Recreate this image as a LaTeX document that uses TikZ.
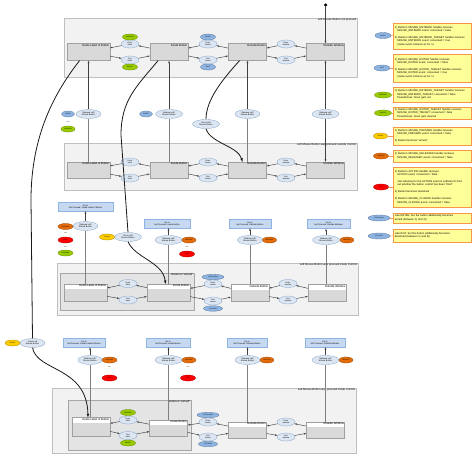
\documentclass[tikz,border=0pt]{standalone}
\usepackage{fontspec}
\setmainfont{Liberation Sans}
\usetikzlibrary{shapes.geometric}
\usetikzlibrary{calc}
\usetikzlibrary{arrows}

\definecolor{panelfill}{HTML}{F2F2F2}
\definecolor{panelline}{HTML}{BFBFBF}
\definecolor{armedfill}{HTML}{E4E4E4}
\definecolor{armedline}{HTML}{A6A6A6}
\definecolor{boxfill}{HTML}{D9D9D9}
\definecolor{boxline}{HTML}{A0A0A0}
\definecolor{evfill}{HTML}{DCE6F2}
\definecolor{evline}{HTML}{8EA9C8}
\definecolor{gotofill}{HTML}{C6D9F1}
\definecolor{gotoline}{HTML}{8EB4E3}
\definecolor{notefill}{HTML}{FFFF99}
\definecolor{noteline}{HTML}{F79646}
\definecolor{keyblue}{HTML}{8DB4E2}
\definecolor{keygreen}{HTML}{99CC00}
\definecolor{keyyellow}{HTML}{FFCC00}
\definecolor{keyorange}{HTML}{E46C0A}
\definecolor{keyred}{HTML}{FF0000}

\newcommand{\noteindent}{\hspace*{2.5mm}}

\begin{document}
\begin{tikzpicture}[x=1mm,y=-1mm,>=latex,
  panel/.style={draw=panelline,fill=panelfill,line width=0.5mm},
  armedpanel/.style={draw=armedline,fill=armedfill,line width=0.5mm},
  paneltitle/.style={anchor=north east,inner sep=0.8mm,font=\fontsize{8}{9}\selectfont},
  statebox/.style={draw=boxline,fill=boxfill,line width=0.35mm,minimum width=38mm,minimum height=17mm,inner sep=0pt,
    label={[anchor=north east,inner sep=0.8mm,font=\fontsize{8}{9}\selectfont]north east:#1}},
  armedbox/.style={statebox={#1},path picture={\fill[white] (path picture bounding box.north west) rectangle ([yshift=-5mm]path picture bounding box.north east);}},
  event/.style={ellipse,draw=evline,fill=evfill,line width=0.35mm,minimum width=18mm,minimum height=8mm,inner sep=0pt,align=center,font=\fontsize{5.5}{6}\selectfont},
  mouse/.style={event,minimum width=27mm,minimum height=9mm,font=\fontsize{6}{6.5}\selectfont},
  tag/.style={ellipse,draw=#1!70!black,fill=#1,line width=0.35mm,minimum width=15mm,minimum height=6mm,inner sep=0pt,font=\fontsize{4.5}{5}\selectfont},
  goto/.style={draw=gotoline,fill=gotofill,line width=0.35mm,minimum height=9mm,inner sep=0pt,align=center,font=\fontsize{6}{7}\selectfont},
  note/.style={draw=noteline,fill=notefill,line width=0.9mm,anchor=west,text width=75mm,inner xsep=1.5mm,inner ysep=0.8mm,align=left,font=\fontsize{7.5}{9.8}\selectfont},
  thentext/.style={inner sep=0pt,font=\fontsize{4}{4}\selectfont},
  flow/.style={->,draw=black!75,line width=0.45mm},
  link/.style={draw=black!50,line width=0.45mm},
  curve/.style={draw=black!90,line width=0.8mm},
  keyline/.style={draw=noteline,line width=0.6mm}]
  \useasboundingbox (0,0) rectangle (474,457);

  % not pressed
  \draw[panel] (64,18) rectangle (357,77);
  \node[paneltitle] (t1) at (357,18) {Left Mouse Button not pressed};
  \node[statebox={Inside Label of Button},minimum width=43mm] (l1) at (88.5,52) {};
  \node[statebox={Inside Button}] (b1) at (169,52) {};
  \node[statebox={Outside Button}] (o1) at (247.5,52) {};
  \node[statebox={Outside Window}] (w1) at (325.5,52) {};
  \node[event] (el1) at (130,44) {Enter\\label};
  \node[event] (xl1) at (130,60) {Exit\\label};
  \node[tag=keygreen] (gn1) at (130,37) {ENTERED};
  \node[tag=keygreen] (gx1) at (130,67) {EXITED};
  \node[event] (eb1) at (208,44) {Enter\\button};
  \node[event] (xb1) at (208,60) {Exit\\button};
  \node[tag=keyblue] (ke1) at (208,37) {ENTER};
  \node[tag=keyblue] (kx1) at (208,67) {EXIT};
  \node[event] (ew1) at (286,44) {Enter\\window};
  \node[event] (xw1) at (286,60) {Exit\\window};
  \draw[flow] (b1) -- (el1);
  \draw[flow] (el1) -- (l1);
  \draw[flow] (l1) -- (xl1);
  \draw[flow] (xl1) -- (b1);
  \draw[flow] (o1) -- (eb1);
  \draw[flow] (eb1) -- (b1);
  \draw[flow] (b1) -- (xb1);
  \draw[flow] (xb1) -- (o1);
  \draw[flow] (w1) -- (ew1);
  \draw[flow] (ew1) -- (o1);
  \draw[flow] (o1) -- (xw1);
  \draw[flow] (xw1) -- (w1);
  \node[circle,fill=black,inner sep=0pt,minimum size=3.5mm] (start) at (325.5,5) {};
  \draw[flow] (start) -- (w1);

  % pressed outside
  \draw[panel] (64,143) rectangle (357,190);
  \node[paneltitle] (t2) at (357,143) {Left Mouse Button was pressed outside Control};
  \node[statebox={Inside Label of Button},minimum width=43mm,minimum height=16mm] (l2) at (88.5,170) {};
  \node[statebox={Inside Button},minimum height=16mm] (b2) at (169,170) {};
  \node[statebox={Outside Button},minimum height=16mm] (o2) at (247.5,170) {};
  \node[statebox={Outside Window},minimum height=16mm] (w2) at (325.5,170) {};
  \node[event] (el2) at (130,162) {Enter\\label};
  \node[event] (xl2) at (130,178) {Exit\\label};
  \node[event] (eb2) at (208,162) {Enter\\button};
  \node[event] (xb2) at (208,178) {Exit\\button};
  \node[event] (ew2) at (286,162) {Enter\\window};
  \node[event] (xw2) at (286,178) {Exit\\window};
  \draw[flow] (b2) -- (el2);
  \draw[flow] (el2) -- (l2);
  \draw[flow] (l2) -- (xl2);
  \draw[flow] (xl2) -- (b2);
  \draw[flow] (o2) -- (eb2);
  \draw[flow] (eb2) -- (b2);
  \draw[flow] (b2) -- (xb2);
  \draw[flow] (xb2) -- (o2);
  \draw[flow] (w2) -- (ew2);
  \draw[flow] (ew2) -- (o2);
  \draw[flow] (o2) -- (xw2);
  \draw[flow] (xw2) -- (w2);

  % release back to not pressed
  \node[tag=keyblue,minimum width=13mm] (ke5) at (68,114) {ENTER};
  \node[thentext] (th1) at (68,121.5) {then};
  \node[tag=keygreen,minimum width=14mm] (gn5) at (68,129) {ENTERED};
  \node[mouse,minimum width=25mm] (rl1) at (88.5,114) {Release Left\\Mouse Button};
  \draw[link] (l2) -- (rl1);
  \draw[flow] (rl1) -- (l1);
  \node[tag=keyblue,minimum width=13mm] (ke6) at (146,114) {ENTER};
  \node[mouse] (rb1) at (169,114) {Release Left\\Mouse Button};
  \draw[link] (b2) -- (rb1);
  \draw[flow] (rb1) -- (b1);
  \node[mouse] (pr1) at (206,124) {Press Left\\Mouse Button};
  \node[mouse,minimum width=25mm] (ro1) at (247.5,114) {Release Left\\Mouse Button};
  \draw[link] (o2) -- (ro1);
  \draw[flow] (ro1) -- (o1);
  \node[mouse] (rw1) at (325.5,114) {Release Left\\Mouse Button};
  \draw[flow] (rw1) -- (w2);
  \draw[flow] (rw1) -- (w1);

  % pressed inside
  \draw[panel] (57,263) rectangle (358,315);
  \node[paneltitle] (t3) at (358,263) {Left Mouse Button was pressed inside Control};
  \draw[armedpanel] (60,273) rectangle (194,310);
  \node[paneltitle] (a3) at (194,273) {Button is ``armed''};
  \node[armedbox={Inside Label of Button},minimum width=43mm] (l3) at (85.5,292.5) {};
  \node[armedbox={Inside Button},minimum width=43mm] (b3) at (168.5,292.5) {};
  \node[armedbox={Outside Button}] (o3) at (250,293) {};
  \node[armedbox={Outside Window}] (w3) at (327,293) {};
  \node[event] (el3) at (128,283.5) {Enter\\label};
  \node[event] (xl3) at (128,300) {Exit\\label};
  \node[event] (eb3) at (213,284) {Enter\\button};
  \node[event] (xb3) at (213,301) {Exit\\button};
  \node[tag=keyblue,minimum width=22mm,minimum height=5.5mm] (ka3) at (213,277) {ENTER ARM};
  \node[tag=keyblue,minimum width=19mm,minimum height=5.5mm] (kd3) at (213,308.5) {EXIT ARM};
  \node[event] (ew3) at (288,283.5) {Enter\\window};
  \node[event] (xw3) at (288,300) {Exit\\window};
  \draw[flow] (b3) -- (el3);
  \draw[flow] (el3) -- (l3);
  \draw[flow] (l3) -- (xl3);
  \draw[flow] (xl3) -- (b3);
  \draw[flow] (o3) -- (eb3);
  \draw[flow] (eb3) -- (b3);
  \draw[flow] (b3) -- (xb3);
  \draw[flow] (xb3) -- (o3);
  \draw[flow] (w3) -- (ew3);
  \draw[flow] (ew3) -- (o3);
  \draw[flow] (o3) -- (xw3);
  \draw[flow] (xw3) -- (w3);

  % release from pressed inside (via button)
  \node[goto,minimum width=55mm] (g3l) at (85.5,206.5) {Go to\\Not Pressed: Inside Label of Button};
  \node[mouse,minimum width=25mm] (rl3) at (85.5,226) {Release Left\\Mouse Button};
  \node[tag=keyorange] (ko5) at (65.5,226.5) {RELEASE};
  \node[thentext] (th2) at (65.5,233.3) {then};
  \node[tag=keyred] (kf5) at (65.5,240) {FIRE};
  \node[thentext] (th3) at (65.5,246.5) {then};
  \node[tag=keygreen] (gn6) at (65.5,253) {ENTERED};
  \draw[link] (l3) -- (rl3);
  \draw[flow] (rl3) -- (g3l);
  \node[goto,minimum width=46mm] (g3b) at (167,223.5) {Go to\\Not Pressed: Inside Button};
  \node[mouse] (rb3) at (168.5,240) {Release Left\\Mouse Button};
  \node[tag=keyorange,minimum width=14mm] (ko6) at (189,240) {RELEASE};
  \node[thentext] (th4) at (187,247) {then};
  \node[tag=keyred] (kf6) at (187,254) {FIRE};
  \draw[link] (b3) -- (rb3);
  \draw[flow] (rb3) -- (rb3 |- g3b.south);
  \node[goto,minimum width=42mm] (g3o) at (250,223.5) {Go to\\Not Pressed: Outside Button};
  \node[mouse,minimum width=25mm] (ro3) at (250,240) {Release Left\\Mouse Button};
  \node[tag=keyorange,minimum width=14mm] (ko7) at (269.5,240) {RELEASE};
  \draw[link] (o3) -- (ro3);
  \draw[flow] (ro3) -- (g3o);
  \node[goto,minimum width=43mm] (g3w) at (328.5,224) {Go to\\Not Pressed: Outside Window};
  \node[mouse] (rw3) at (326,240) {Release Left\\Mouse Button};
  \node[tag=keyorange,minimum width=14mm] (ko8) at (347,240) {RELEASE};
  \draw[link] (w3.north -| rw3) -- (rw3);
  \draw[flow] (rw3) -- (rw3 |- g3w.south);
  \node[mouse] (pb1) at (128,237) {Press Left\\Mouse Button};
  \node[tag=keyyellow] (ky2) at (107,237) {PRESS};

  % pressed inside (via label)
  \draw[panel] (52,388) rectangle (356,453);
  \node[paneltitle] (t4) at (356,388) {Left Mouse Button was pressed inside Control};
  \draw[armedpanel] (68,400) rectangle (191,450);
  \node[paneltitle] (a4) at (191,400) {Button is ``armed''};
  \node[armedbox={Inside Label of Button},minimum height=19mm] (l4) at (91,427) {};
  \node[armedbox={Inside Button},minimum height=16mm] (b4) at (168.5,428) {};
  \node[armedbox={Outside Button},minimum height=16mm] (o4) at (247.5,430) {};
  \node[armedbox={Outside Window},minimum height=16mm] (w4) at (325.5,430) {};
  \node[event] (el4) at (128,420) {Enter\\label};
  \node[event] (xl4) at (128,435.5) {Exit\\label};
  \node[tag=keygreen] (gn4) at (128,412.5) {ENTERED};
  \node[tag=keygreen] (gx4) at (128,443) {EXITED};
  \node[event] (eb4) at (208,422) {Enter\\button};
  \node[event] (xb4) at (208,437) {Exit\\button};
  \node[tag=keyblue,minimum width=22mm,minimum height=5.5mm] (ka4) at (208,415) {ENTER ARM};
  \node[tag=keyblue,minimum width=19mm,minimum height=5.5mm] (kd4) at (208,444) {EXIT ARM};
  \node[event] (ew4) at (286,422) {Enter\\window};
  \node[event] (xw4) at (286,437) {Exit\\window};
  \draw[flow] (b4) -- (el4);
  \draw[flow] (el4) -- (l4);
  \draw[flow] (l4) -- (xl4);
  \draw[flow] (xl4) -- (b4);
  \draw[flow] (o4) -- (eb4);
  \draw[flow] (eb4) -- (b4);
  \draw[flow] (b4) -- (xb4);
  \draw[flow] (xb4) -- (o4);
  \draw[flow] (w4) -- (ew4);
  \draw[flow] (ew4) -- (o4);
  \draw[flow] (o4) -- (xw4);
  \draw[flow] (xw4) -- (w4);

  % release from pressed inside (via label)
  \node[goto,minimum width=42mm] (g4l) at (84,342.5) {Go to\\Not Pressed: Inside Label of Button};
  \node[mouse,minimum width=24mm] (rl4) at (90,360) {Release Left\\Mouse Button};
  \node[tag=keyorange] (ko9) at (109.5,360) {RELEASE};
  \node[thentext] (th5) at (109.5,367) {then};
  \node[tag=keyred] (kf9) at (109.5,378) {FIRE};
  \draw[link] (l4.north -| rl4) -- (rl4);
  \draw[flow] (rl4) -- (rl4 |- g4l.south);
  \node[goto,minimum width=44mm] (g4b) at (168,342.5) {Go to\\Not Pressed: Inside Button};
  \node[mouse] (rb4) at (168.5,360) {Release Left\\Mouse Button};
  \node[tag=keyorange,minimum width=14mm] (ko10) at (189,360) {RELEASE};
  \node[thentext] (th6) at (188,367) {then};
  \node[tag=keyred] (kf10) at (188,378) {FIRE};
  \draw[link] (b4) -- (rb4);
  \draw[flow] (rb4) -- (rb4 |- g4b.south);
  \node[goto,minimum width=40mm] (g4o) at (247,342.5) {Go to\\Not Pressed: Outside Button};
  \node[mouse,minimum width=25mm] (ro4) at (247.5,360) {Release Left\\Mouse Button};
  \node[tag=keyorange,minimum width=14mm] (ko11) at (267,360) {RELEASE};
  \draw[link] (o4) -- (ro4);
  \draw[flow] (ro4) -- (ro4 |- g4o.south);
  \node[goto,minimum width=40mm] (g4w) at (325,342.5) {Go to\\Not Pressed: Outside Window};
  \node[mouse] (rw4) at (325.5,360) {Release Left\\Mouse Button};
  \node[tag=keyorange,minimum width=14mm] (ko12) at (346,360) {RELEASE};
  \draw[link] (w4) -- (rw4);
  \draw[flow] (rw4) -- (rw4 |- g4w.south);
  \node[mouse,minimum width=25mm] (pl1) at (32.5,343) {Press Left\\Mouse Button};
  \node[tag=keyyellow] (ky1) at (12.5,343) {PRESS};

  % press curves
  \draw[curve] ([xshift=-9mm]l1.south) .. controls (55,92) and (31,135) .. (31,200) -- (pl1.north);
  \draw[curve,->] (pl1.south) .. controls (37,372) and (87,366) .. ([xshift=-3mm]l4.north);
  \draw[curve] ([xshift=-11mm]b1.south) .. controls (137,86) and (121,100) .. (121,135) -- (pb1.north);
  \draw[curve,->] (pb1.south) .. controls (135,258) and (163,262) .. ([xshift=-3mm]b3.north);
  \draw[curve] ([xshift=-8mm]o1.south) .. controls (222,80) and (206,100) .. (pr1.north);
  \draw[curve,->] (pr1.south) .. controls (210,143) and (238,146) .. ([xshift=-5mm]o2.north);

  % legend
  \node[tag=keyblue,minimum width=16mm] (k1) at (383,35.5) {ENTER};
  \node[note,minimum height=26mm] (n1) at (393,36) {1) Button's MOUSE\_ENTERED handler receives\\\noteindent MOUSE\_ENTERED event; consumed = false\\[9.8pt]2) Button's MOUSE\_ENTERED\_TARGET handler receives\\\noteindent MOUSE\_ENTERED event; consumed = true\\\noteindent (same event instance as for 1)};
  \draw[keyline] (k1) -- (n1);
  \node[tag=keyblue,minimum width=16mm] (k2) at (382,68) {EXIT};
  \node[note,minimum height=28mm] (n2) at (393,68) {1) Button's MOUSE\_EXITED handler receives\\\noteindent MOUSE\_EXITED event; consumed = false\\[9.8pt]2) Button's MOUSE\_EXITED\_TARGET handler receives\\\noteindent MOUSE\_EXITED event; consumed = true\\\noteindent (same event instance as for 1)};
  \draw[keyline] (k2) -- (n2);
  \node[tag=keygreen,minimum width=17mm] (k3) at (383,95) {ENTERED};
  \node[note,minimum height=15mm] (n3) at (393,94.5) {1) Button's MOUSE\_ENTERED\_TARGET handler receives\\\noteindent MOUSE\_ENTERED\_TARGET; consumed = false\\\noteindent Pseudoclass :hover gets set};
  \draw[keyline] (k3) -- (n3);
  \node[tag=keygreen,minimum width=17mm] (k4) at (383,113) {EXITED};
  \node[note,minimum height=12mm] (n4) at (393,113) {1) Button's MOUSE\_EXITED\_TARGET handler receives\\\noteindent MOUSE\_EXITED\_TARGET; consumed = false\\\noteindent Pseudoclass :hover gets cleared};
  \draw[keyline] (k4) -- (n4);
  \node[tag=keyyellow,minimum width=14mm] (k5) at (380.5,136) {PRESS};
  \node[note,minimum height=18mm] (n5) at (393,136) {1) Button's MOUSE\_PRESSED handler receives\\\noteindent MOUSE\_PRESSED event; consumed = false\\[9.8pt]2) Button becomes ``armed''};
  \draw[keyline] (k5) -- (n5);
  \node[tag=keyorange,minimum width=15mm] (k6) at (381,156) {RELEASE};
  \node[note,minimum height=12mm] (n6) at (393,156) {1) Button's MOUSE\_RELEASED handler receives\\\noteindent MOUSE\_RELEASED event; consumed = false};
  \draw[keyline] (k6) -- (n6);
  \node[tag=keyred,minimum width=15mm] (k7) at (381,187) {FIRE};
  \node[note,minimum height=40mm] (n7) at (393,187) {1) Button's ACTION handler receives\\\noteindent ACTION event; consumed = false\\[9.8pt]\noteindent Just listening for the ACTION event is sufficient to find\\\noteindent out whether the button control has been ``fired''\\[9.8pt]2) Button becomes disarmed\\[9.8pt]3) Button's MOUSE\_CLICKED handler receives\\\noteindent MOUSE\_CLICKED event; consumed = false};
  \draw[keyline] (k7) -- (n7);
  \node[tag=keyblue,minimum width=22mm] (k8) at (379,218) {ENTER ARM};
  \node[note,minimum height=10mm] (n8) at (393,218) {Like ENTER, but the button additionally becomes\\armed (between 1) and 2))};
  \draw[keyline] (k8) -- (n8);
  \node[tag=keyblue,minimum width=22mm] (k9) at (379,236) {EXIT ARM};
  \node[note,minimum height=13mm] (n9) at (393,235.5) {Like EXIT, but the button additionally becomes\\disarmed (between 1) and 2))};
  \draw[keyline] (k9) -- (n9);
\end{tikzpicture}
\end{document}
